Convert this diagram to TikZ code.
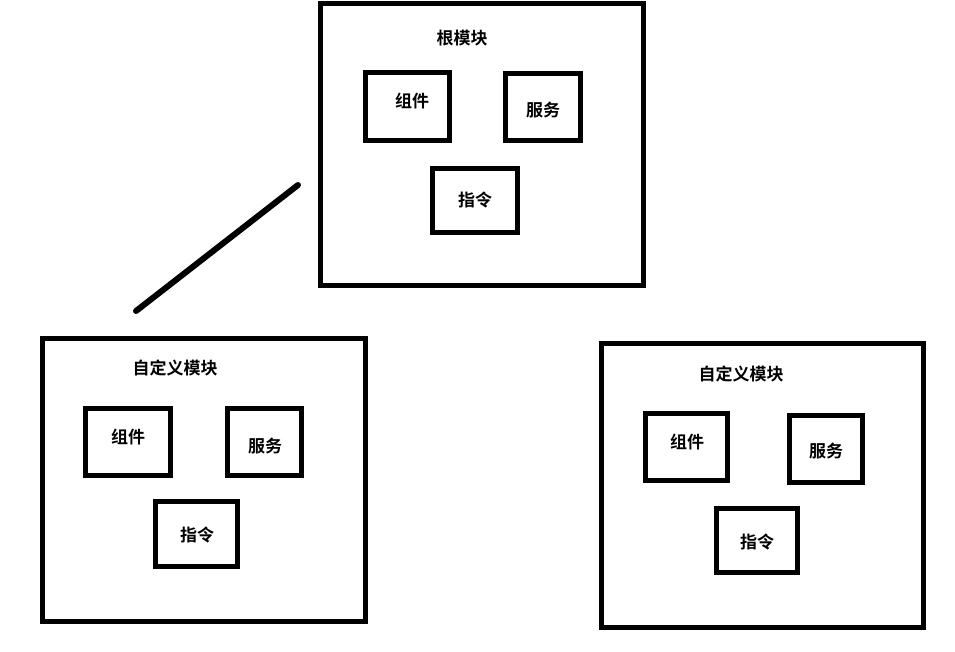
\documentclass[tikz,border=0pt]{standalone}
\usepackage{fontspec}
\newfontfamily\cjk{Noto Sans CJK SC Bold}
\begin{document}
\begin{tikzpicture}[x=1pt,y=-1pt,
    modbox/.style={draw,line width=5pt},
    partbox/.style={draw,line width=5pt},
    lbl/.style={font=\cjk\fontsize{17}{17}\selectfont}]
    \useasboundingbox (0,0) rectangle (955,651);

    % root module
    \draw[modbox] (320,3) rectangle (643,285);
    \node[lbl] (rootT) at (462,38) {根模块};
    \draw[partbox] (365,72) rectangle (449,140);
    \node[lbl] (rootC) at (412,101) {组件};
    \draw[partbox] (505,73) rectangle (580,140);
    \node[lbl] (rootS) at (543,110) {服务};
    \draw[partbox] (432,168) rectangle (517,232);
    \node[lbl] (rootD) at (475,200) {指令};

    % left custom module
    \draw[modbox] (42,338) rectangle (365,621);
    \node[lbl] (leftT) at (175,368) {自定义模块};
    \draw[partbox] (85,408) rectangle (170,475);
    \node[lbl] (leftC) at (128,437) {组件};
    \draw[partbox] (227,408) rectangle (301,475);
    \node[lbl] (leftS) at (265,446) {服务};
    \draw[partbox] (155,501) rectangle (237,566);
    \node[lbl] (leftD) at (197,535) {指令};

    % right custom module
    \draw[modbox] (601,343) rectangle (923,627);
    \node[lbl] (rightT) at (741,374) {自定义模块};
    \draw[partbox] (645,413) rectangle (727,480);
    \node[lbl] (rightC) at (687,442) {组件};
    \draw[partbox] (789,415) rectangle (862,482);
    \node[lbl] (rightS) at (826,451) {服务};
    \draw[partbox] (716,508) rectangle (797,572);
    \node[lbl] (rightD) at (757,542) {指令};

    % link
    \coordinate (linkA) at (298,185);
    \coordinate (linkB) at (136,311);
    \draw[line width=6pt,line cap=round] (linkA) -- (linkB);
\end{tikzpicture}
\end{document}
